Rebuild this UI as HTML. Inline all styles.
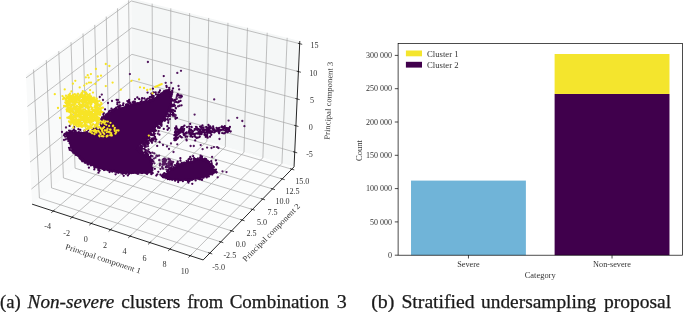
<!DOCTYPE html>
<html lang="en"><head><meta charset="utf-8"><title>Figure</title>
<style>html,body{margin:0;padding:0;background:#fff}svg{display:block}</style></head>
<body>
<svg width="685" height="312" viewBox="0 0 685 312">
<rect width="685" height="312" fill="#fff"/>
<polygon points="32.08,204.15 132.67,119.98 131.28,-1.65 25.88,75.1" fill="#f9fafa"/>
<polygon points="132.67,119.98 294.05,166.83 299.8,40.99 131.28,-1.65" fill="#f5f7f7"/>
<polygon points="32.08,204.15 203.16,259.95 294.05,166.83 132.67,119.98" fill="#fbfcfc"/>
<path d="M53.24,211.05 L152.71,125.8 L152.16,3.64 M72.12,217.21 L170.57,130.98 L170.79,8.35 M91.23,223.44 L188.63,136.22 L189.63,13.12 M110.56,229.75 L206.88,141.52 L208.68,17.94 M130.13,236.13 L225.34,146.88 L227.96,22.82 M149.94,242.6 L244.01,152.3 L247.46,27.75 M169.99,249.14 L262.88,157.78 L267.19,32.74 M190.29,255.76 L281.96,163.32 L287.15,37.79 M209.79,253.15 L39.4,198.03 L33.57,69.5 M220.79,241.89 L51.53,187.88 L46.32,60.22 M231.56,230.86 L63.42,177.93 L58.8,51.13 M242.1,220.05 L75.07,168.18 L71.03,42.23 M252.44,209.46 L86.51,158.61 L83.01,33.5 M262.56,199.09 L97.73,149.23 L94.75,24.95 M272.49,188.92 L108.73,140.02 L106.26,16.57 M282.22,178.95 L119.53,130.98 L117.55,8.35 M291.76,169.17 L130.13,122.11 L128.62,0.29 M31.36,189.11 L132.51,105.75 L294.72,152.13 M30.06,162.11 L132.22,80.26 L295.93,125.78 M28.74,134.58 L131.92,54.3 L297.15,98.94 M27.39,106.52 L131.62,27.87 L298.4,71.58 M26.02,77.89 L131.31,0.97 L299.68,43.7" fill="none" stroke="#a6a6a6" stroke-width="0.7" stroke-linejoin="round"/>
<polygon points="68.55,140.91 68.56,140.92 71.65,150.3 71.67,150.35 71.69,150.39 71.71,150.43 71.74,150.46 71.77,150.5 77.88,156.61 77.92,156.65 85.72,162.88 85.75,162.91 85.79,162.93 85.83,162.95 98.43,168.42 98.48,168.44 98.53,168.45 114.32,171.91 114.37,171.91 130.32,173.7 130.38,173.7 146.3,173.7 146.37,173.69 150.99,173.03 151.04,173.02 151.08,173 151.13,172.99 151.17,172.96 151.21,172.94 151.25,172.91 151.28,172.88 151.31,172.84 151.34,172.8 151.36,172.76 151.38,172.72 151.4,172.68 152.47,169.09 152.48,169.05 152.49,169 152.49,168.95 152.49,168.91 152.01,163.09 152,163.03 151.98,162.97 151.96,162.92 149.55,157.62 149.53,157.57 149.5,157.53 149.47,157.49 149.43,157.45 149.39,157.42 144.02,153.52 143.97,153.49 139.51,151.01 139.5,151 139.49,150.99 138.01,149.01 138,149 138.01,148.99 139.99,145.01 140,145 140.01,144.99 144.07,142.68 144.11,142.65 144.15,142.62 144.18,142.58 144.22,142.55 144.24,142.51 144.27,142.46 144.49,142.01 144.5,142 144.51,141.99 147.03,140.55 147.07,140.53 147.11,140.49 147.15,140.46 147.18,140.42 147.21,140.38 147.24,140.33 147.25,140.29 149.5,134.01 149.5,134 149.51,133.99 153.97,128.93 154,128.9 154.02,128.86 156.99,124.01 157,124 157.01,123.99 161.21,121.37 161.25,121.34 161.29,121.31 161.32,121.28 161.35,121.24 161.38,121.2 161.49,121.01 161.5,121 161.51,120.99 164.96,118.84 165.01,118.81 165.05,118.77 165.08,118.73 165.11,118.69 165.14,118.65 165.16,118.6 167.5,112.81 167.5,112.8 167.51,112.79 169.96,108.87 169.98,108.82 170,108.77 170.02,108.72 171.49,102.76 171.5,102.7 171.5,102.64 171.5,94.07 171.5,94.03 171.49,93.98 171.48,93.93 171.46,93.89 171.44,93.84 171.42,93.8 171.39,93.76 168.42,90.02 168.39,89.99 168.35,89.96 168.31,89.93 168.27,89.9 168.23,89.88 168.18,89.86 168.14,89.85 168.09,89.84 168.04,89.84 167.99,89.84 167.94,89.84 164.11,90.48 164.06,90.49 164,90.51 163.96,90.53 163.91,90.56 160.03,93.18 159.98,93.22 152.81,99.59 152.8,99.6 152.79,99.6 138.31,102.8 138.29,102.8 125.51,106 125.49,106 114.26,109.28 114.22,109.3 114.18,109.31 114.15,109.33 106.29,113.95 106.25,113.98 106.21,114.01 106.17,114.04 106.14,114.08 101.06,120.91 101.03,120.96 101.01,121 100.99,121.05 100.98,121.1 99,129.99 99,130 98.99,130 90.01,132.5 90,132.5 89.99,132.5 75.03,131.5 74.97,131.5 66.07,132 66.02,132 65.98,132.01 65.94,132.02 65.61,132.13 65.57,132.15 65.53,132.17 65.49,132.19 65.45,132.22 65.41,132.25 65.38,132.29 65.35,132.33 65.33,132.37 65.31,132.41 65.29,132.46 65.28,132.5 65.27,132.55 65.27,132.6 65.27,132.65 65.28,132.69 65.29,132.74 65.84,134.66 65.86,134.73 68.52,140.84 68.53,140.85" fill="#41014f"/>
<polygon points="164.23,177.62 164.27,177.65 164.31,177.67 164.35,177.69 164.4,177.7 170.46,179.41 170.52,179.42 179.99,180.89 180.05,180.89 180.1,180.89 191.08,180.3 191.13,180.3 202.1,178.63 202.16,178.62 202.22,178.6 211.68,174.8 211.74,174.77 216.29,172.19 216.33,172.16 216.37,172.13 216.41,172.1 216.44,172.06 216.47,172.02 216.49,171.98 216.51,171.94 216.53,171.89 216.54,171.84 216.54,171.8 216.55,171.75 216.54,171.7 216.54,171.65 216.52,171.6 216.51,171.56 216.49,171.52 216.46,171.47 216.43,171.43 216.4,171.4 212.11,167.11 212.1,167.1 212.09,167.09 208.97,162.4 208.94,162.36 208.91,162.33 208.87,162.29 208.84,162.27 208.8,162.24 202.52,158.67 202.48,158.65 202.44,158.63 202.4,158.62 202.35,158.61 202.31,158.61 202.26,158.6 196.12,158.8 196.07,158.8 196.03,158.81 195.98,158.82 195.94,158.84 195.89,158.86 191.21,161.49 191.2,161.5 191.19,161.5 183.26,163.09 183.22,163.1 183.18,163.11 183.14,163.13 175.12,167.09 175.08,167.11 167.17,171.86 167.12,171.89 167.08,171.92 167.05,171.96 163.26,176.22 163.23,176.26 163.2,176.3 163.18,176.34 163.16,176.39 163.15,176.43 163.14,176.48 163.14,176.53 163.14,176.58 163.14,176.63 163.15,176.67 163.16,176.72 163.18,176.76 163.21,176.81 163.23,176.85 163.26,176.89 163.3,176.92 163.33,176.95" fill="#41014f"/>
<path d="M84.65,162.55h0 M159.39,123.94h0 M138.56,147.43h0 M141.7,103.07h0 M152.38,170.48h0 M154.63,126.19h0 M140.61,149.43h0 M133.78,102.31h0 M159.65,142.2h0 M163.8,128.96h0 M96.91,126.65h0 M167.99,90.49h0 M126.03,104.69h0 M100.53,122.7h0 M86.37,162.52h0 M98.25,169.9h0 M137.33,97.51h0 M171.81,94.52h0 M171.89,106.42h0 M157.65,125.63h0 M145.81,151.19h0 M148.73,156.79h0 M169.01,110.3h0 M103.53,116.64h0 M152.24,163.37h0 M153.21,134.97h0 M141.79,145.38h0 M78.86,132.11h0 M151.06,155.73h0 M68.3,141.02h0 M75.83,132.46h0 M145.75,142.25h0 M144.21,145.88h0 M161.5,122.52h0 M151.06,133.35h0 M181.56,105.35h0 M171.92,109.76h0 M149.84,97.13h0 M157.14,94.83h0 M99.52,170.77h0 M152.52,96.45h0 M133.58,102.44h0 M148.83,137.11h0 M90.76,132.36h0 M128.86,101.52h0 M149.22,152.02h0 M165.45,119.25h0 M119.06,171.44h0 M67.92,137.65h0 M173.02,88.38h0 M95.17,129.75h0 M84.5,130.67h0 M150.93,161.27h0 M69.53,131.12h0 M80.55,158.95h0 M169.87,107.43h0 M95.15,131.88h0 M150.4,161.56h0 M147.98,98.58h0 M140.06,143.85h0 M144.89,142.55h0 M76,154.12h0 M130.93,104.03h0 M150.51,172.38h0 M157.38,174.28h0 M86.27,162.6h0 M150.43,140.63h0 M144.89,142.97h0 M88.14,130.29h0 M93.18,132.35h0 M152.25,169.18h0 M69.01,147.84h0 M141.61,150.98h0 M150.84,99.62h0 M166.14,114.55h0 M130.73,104.47h0 M141.88,151.16h0 M101.91,120.5h0 M141.74,147.96h0 M128.58,173.15h0 M148.12,154.46h0 M79.7,156.85h0 M114.95,109.27h0 M124.17,172.52h0 M150.47,156.89h0 M140.54,102.24h0 M174.91,100h0 M72.01,131.78h0 M147.8,101.45h0 M166.4,85.99h0 M76.04,154.49h0 M171.85,93.91h0 M146.98,156.89h0 M78.38,129.27h0 M139.16,98.98h0 M161.54,124.17h0 M120.72,105.84h0 M142.49,152.81h0 M135.04,99.07h0 M75.6,130.91h0 M95.4,166.13h0 M67.05,135.91h0 M164.86,120.67h0 M104.01,170.11h0 M108.8,112.76h0 M142.01,173.19h0 M82.2,161.23h0 M129.17,100.02h0 M172.56,114.95h0 M159.77,127.75h0 M164.81,120.81h0 M149.38,137.47h0 M139.63,103.43h0 M154.92,129.57h0 M166.73,113.72h0 M147.57,173.01h0 M80.16,158.73h0 M132.68,102.23h0 M155.93,130.68h0 M149.93,159.82h0 M116.09,171.83h0 M170.95,112.1h0 M151.21,96.66h0 M70.85,145.6h0 M157.83,122.45h0 M146.58,99.4h0 M163.51,119.1h0 M105.84,115.14h0 M100.27,127.95h0 M148.7,136.58h0 M96.89,129.72h0 M129.07,101.77h0 M164.28,118.66h0 M167.61,129.74h0 M151.71,164.67h0 M156.83,123.66h0 M81.03,132.6h0 M161.37,123.08h0 M169.39,92.55h0 M157.38,94.81h0 M170.06,91.98h0 M100.44,167.92h0 M177.3,95.06h0 M148.66,157.77h0 M136.96,149.43h0 M119.2,107.54h0 M88.3,164.44h0 M78.23,155.92h0 M96.34,129.69h0 M90.86,165.45h0 M153.66,92.35h0 M66.71,132.51h0 M171.68,94.42h0 M158.59,92.38h0 M160.26,121.1h0 M147.57,92.55h0 M170.95,103.74h0 M157.75,94.57h0 M150.39,153.13h0 M150.27,134.63h0 M69.65,149.85h0 M103.61,117.63h0 M67.32,136.24h0 M123.7,173.12h0 M158.27,126.83h0 M151.37,174.16h0 M147.79,144.19h0 M174.09,105.91h0 M139.89,149.37h0 M158.29,171.82h0 M97.49,123.23h0 M133.58,101.66h0 M175.76,107.83h0 M151.93,169.85h0 M139.01,147.1h0 M101.92,118.89h0 M127.87,175.44h0 M171.11,101.68h0 M98.88,129.8h0 M157.03,97.04h0 M130.37,104.98h0 M154.99,136.77h0 M158.1,122.25h0 M167.89,90.59h0 M72.34,150.3h0 M144.82,144.93h0 M156.68,124.61h0 M156.52,125.97h0 M140.38,148.9h0 M123.05,105.07h0 M107.46,170.19h0 M92.47,132.02h0 M118.71,107.44h0 M129.61,102.34h0 M167.76,113.82h0 M143.4,102.21h0 M140.91,145.46h0 M159.43,134.63h0 M92,132.71h0 M127.92,105.1h0 M101.05,119.04h0 M148.94,138.17h0 M155.7,92.49h0 M76.82,154.26h0 M132.31,104.41h0 M136.48,173.09h0 M103.52,118.53h0 M75.66,154.85h0 M164.18,91.12h0 M119.5,105.58h0 M145.88,100.35h0 M156.27,139.53h0 M157.97,122.83h0 M144.32,98.5h0 M168.76,110.68h0 M174.07,104.42h0 M153.89,132.5h0 M99.84,168.49h0 M147.11,174.04h0 M153.94,135.42h0 M180.59,95.71h0 M73.29,152.73h0 M151.71,130.45h0 M83.19,160.71h0 M126.05,173.19h0 M85.28,162.87h0 M173.66,114.12h0 M170.37,114.14h0 M81.61,158.67h0 M172.24,104.67h0 M72.85,151.96h0 M159.88,124.37h0 M118.62,172.78h0 M119.19,106.34h0 M99.66,167.87h0 M66.55,134.39h0 M99.08,168.46h0 M106.67,114.78h0 M173.01,112.87h0 M148.61,158.1h0 M70.03,148.03h0 M152.93,140.48h0 M125.5,106.51h0 M152.92,88.63h0 M97.57,167.58h0 M166.25,90.46h0 M152.22,159.83h0 M130.58,104.63h0 M156.29,175.57h0 M64.04,135.24h0 M104.99,169.79h0 M151.37,134.88h0 M106.27,114.34h0 M148.69,140.67h0 M65.96,133.9h0 M80.3,129.9h0 M85.02,132.94h0 M70.29,131.13h0 M159.12,121.56h0 M169.05,111.78h0 M84.85,161.41h0 M111.47,108.62h0 M120.86,172.72h0 M151.4,140.45h0 M87.65,164.39h0 M147.2,141.91h0 M144.28,148.84h0 M91.63,132.65h0 M169.93,93.41h0 M89.2,163.48h0 M152.04,138.63h0 M137.3,148.38h0 M94.28,169.42h0 M154.62,130.34h0 M154.59,133.53h0 M154.84,168.82h0 M99.93,167.96h0 M92.44,132.78h0 M147.51,173.19h0 M112.29,171.71h0 M153.66,139.51h0 M141.37,102.89h0 M171.03,106.42h0 M107.8,113.49h0 M146.21,100.82h0 M160.06,121.12h0 M137.67,172.98h0 M114.53,109.08h0 M109.54,172.01h0 M146.08,140.52h0 M117.9,106.58h0 M172.2,90.77h0 M143.27,102.49h0 M87.01,133.3h0 M151.45,161.42h0 M175.87,108.19h0 M142.76,152.34h0 M156.46,124.13h0 M72.38,130.86h0 M150.92,161.64h0 M104.46,116.52h0 M152.38,130.71h0 M137.22,103.46h0 M143.86,154.52h0 M140.62,151.68h0 M168.9,128.04h0 M110.82,170.63h0 M116.47,108.77h0 M173.77,105.89h0 M149.74,139.77h0 M136.25,103.3h0 M79.88,157.46h0 M97.06,166.97h0 M99.36,168.4h0 M69.65,143.3h0 M89.23,163.55h0 M154.4,126.76h0 M96.16,131.71h0 M171.02,105.16h0 M147.94,141.37h0 M126.94,172.36h0 M152.59,100.55h0 M102.75,119.15h0 M74.88,153.29h0 M115.93,171.67h0 M67.47,138.41h0 M143.73,102.53h0 M64.61,133.91h0 M116.6,99.78h0 M171.71,94.76h0 M99.11,167.74h0 M65.22,136.67h0 M147.17,153.51h0 M113.1,111.03h0 M155.27,138.14h0 M120.12,105.35h0 M71.66,150.64h0 M169.11,111.45h0 M122.59,171.97h0 M81.21,159.58h0 M138.77,146.41h0 M77.89,155.62h0 M128.14,104.05h0 M155,127.66h0 M101.98,117.35h0 M115.05,171.69h0 M96.3,166.85h0 M169.16,87.95h0 M152.05,134.89h0 M168.38,114.92h0 M129.68,105.47h0 M154.66,126.15h0 M153.67,130.34h0 M163.6,119.97h0 M123.71,175.8h0 M74.51,131.12h0 M153.31,129.25h0 M152.51,99.93h0 M154.79,133.72h0 M141.65,101.89h0 M169.96,116.12h0 M79.37,157.84h0 M155.34,130.91h0 M123.02,105.15h0 M174.84,105.71h0 M177.94,102.44h0 M94.89,166.63h0 M113.06,109.99h0 M81.74,160.15h0 M167.68,119.16h0 M151.12,172.19h0 M138.36,148.61h0 M149.14,135.46h0 M83.61,132.85h0 M156.04,124.47h0 M116.92,171.41h0 M139.93,152.32h0 M178.72,102.01h0 M97.13,130.41h0 M175.39,99.76h0 M146,141.1h0 M66.58,134.29h0 M141.6,172.83h0 M65.65,139.4h0 M139.94,149.41h0 M80.54,158.11h0 M152.78,173.03h0 M142.13,146.83h0 M170.1,114.48h0 M86.41,132.95h0 M153.39,161.49h0 M129.16,173.84h0 M76.76,155.1h0 M169.85,106.64h0 M68.22,139.49h0 M115.58,174.3h0 M150.31,140.25h0 M94.81,167.78h0 M150.48,133.45h0 M128.14,102.1h0 M94.43,131.07h0 M166.03,116.35h0 M73.49,151.08h0 M136.02,104.34h0 M161.34,121.5h0 M82.69,159.25h0 M146.55,142.82h0 M169.03,108.98h0 M141.72,152.61h0 M151.36,93.72h0 M83.71,161.11h0 M171.29,104.05h0 M148.93,100.97h0 M148.13,155.86h0 M152.21,95.25h0 M159.65,121.79h0 M151.14,100.41h0 M173.64,110.23h0 M90.98,164.46h0 M109.12,111.46h0 M145.3,154.81h0 M110.2,110.54h0 M122.44,173.83h0 M107.92,113.59h0 M155.68,98.11h0 M163.75,76.05h0 M149.52,134.61h0 M73.87,129.55h0 M153.77,96.1h0 M87.4,162.61h0 M84.06,160.63h0 M98.76,131.04h0 M106.44,114.6h0 M142.87,153.43h0 M181.8,96.48h0 M144.32,142.59h0 M97.05,167.56h0 M169.62,92.54h0 M110.48,170.18h0 M152.46,167.67h0 M133.24,172.82h0 M102.53,168.9h0 M139.34,150.71h0 M120.77,171.73h0 M138.28,146.63h0 M169.33,90.01h0 M158.12,122.48h0 M165.86,119.55h0 M98.32,167.99h0 M126.28,105.88h0 M133.73,103.48h0 M97.36,131.43h0 M145.56,141.06h0 M144.78,152.16h0 M148.39,101.54h0 M167.13,112.06h0 M175.57,118.75h0 M138.16,103.22h0 M150.2,134.7h0 M145.92,153.76h0 M146.91,138.41h0 M175.9,108.38h0 M154.05,131.15h0 M150.12,158.9h0 M70.92,146.02h0 M169.59,106.96h0 M144.35,101.63h0 M120.6,108.44h0 M156.03,125.2h0 M140.28,147.41h0 M140.22,149.14h0 M150.53,132.58h0 M100.78,124.42h0 M119.39,102.29h0 M123.38,103.39h0 M153.4,100.27h0 M180.52,100.93h0 M157.19,145.88h0 M101.98,120.12h0 M66.44,136.16h0 M172.33,99.31h0 M169.47,109.86h0 M145.46,145.84h0 M75.69,153.48h0 M156.22,125.06h0 M179.02,95.4h0 M148.96,136.32h0 M140.7,145.32h0 M169.64,108.27h0 M116.17,107.73h0 M161.49,125.83h0 M169.02,109.41h0 M135.1,103.34h0 M124.74,172.98h0 M135.8,103.18h0 M168.56,91.77h0 M171.34,100.79h0 M156.01,94.47h0 M171.42,111.86h0 M152.53,98.52h0 M95.4,129.82h0 M69.64,125.97h0 M93.4,128.69h0 M134.81,101.75h0 M111.81,111.22h0 M171.49,96.03h0 M148.29,156.46h0 M147.17,156.91h0 M144.53,149.29h0 M131.37,173.19h0 M116.9,172.39h0 M152.93,131.22h0 M103.35,114.52h0 M108.39,170.01h0 M172.38,114.94h0 M141.91,142.86h0 M158.72,127.34h0 M86.86,133.04h0 M103.77,113.16h0 M73.31,151.3h0 M115.57,108.41h0 M149.14,133.22h0 M126.96,104.41h0 M127.59,101.35h0 M93.53,165.42h0 M71.09,147.21h0 M92.75,131.76h0 M163.63,118.66h0 M151.16,163.68h0 M74.16,127.25h0 M86.96,132.2h0 M125.83,172.93h0 M125.95,106.73h0 M176.99,117.87h0 M170.24,110.92h0 M151.36,141.52h0 M128.17,105.88h0 M113.94,171.01h0 M125.93,173.86h0 M150.98,130.99h0 M139.01,147.91h0 M152.13,97.5h0 M74,129.95h0 M170.4,109.27h0 M104.34,117.67h0 M111.81,111.84h0 M157.59,125.43h0 M141.65,100.1h0 M167.28,126.23h0 M92.43,130.01h0 M127.5,105.41h0 M170.8,97.96h0 M174.98,111.18h0 M81.14,159.27h0 M156.85,124.4h0 M142.1,98.19h0 M148.45,135.68h0 M95.26,128.33h0 M154.98,127.35h0 M117.34,104.21h0 M171.23,101.67h0 M69.09,130.62h0 M171.72,92.32h0 M145.87,150.27h0 M130.36,105.62h0 M156.84,123.47h0 M103.02,119.86h0 M120.43,171.85h0 M173.41,100.67h0 M149.67,99.08h0 M170.6,107.05h0 M144.87,154.81h0 M139.01,150.52h0 M170.33,92.74h0 M131.64,105.49h0 M71.06,150.31h0 M141.31,150.03h0 M166.67,86.98h0 M142.3,148.75h0 M147.89,142.71h0 M130.17,103.21h0 M143.61,143.27h0 M137.95,173.78h0 M170.99,96.25h0 M150.49,158.55h0 M159.12,94.92h0 M153.8,127.4h0 M105.07,109.28h0 M159.09,123.68h0 M138.21,150.94h0 M98.51,172.65h0 M168.01,116.73h0 M170.72,109.34h0 M154.13,98.2h0 M140.82,146.64h0 M160.01,90.29h0 M139.66,103.15h0 M112.41,110.24h0 M117.43,102.41h0 M130.85,104.92h0 M158.14,94.88h0 M139.21,151.29h0 M157.65,123.03h0 M144.48,143.59h0 M150.19,101.2h0 M127.31,101.04h0 M133.68,104.63h0 M159.61,127.9h0 M143.2,142.71h0 M93.42,132.32h0 M67.44,136.78h0 M150.77,160.61h0 M177.76,94.26h0 M150.6,158.92h0 M146.65,155.47h0 M150.67,133.09h0 M84.03,160.52h0 M154.87,130.23h0 M165.24,116.53h0 M74.16,130.35h0 M105.23,116.06h0 M102.74,118.47h0 M167.86,90.5h0 M88.89,167.7h0 M147.94,155.35h0 M85.67,132.76h0 M74.43,152.13h0 M137.32,149.61h0 M146.73,152.86h0 M133.52,102.35h0 M143.35,144.33h0 M94.37,167.24h0 M145.74,172.83h0 M141.57,102.55h0 M172.35,92.42h0 M146.1,155.08h0 M171.11,98.87h0 M96.21,166.65h0 M159.7,121.77h0 M173.09,115.77h0 M91.2,165.28h0 M157.28,126.34h0 M129.49,105.5h0 M101.22,122.52h0 M162.65,120.82h0 M73.93,130.41h0 M176.15,102h0 M168.24,122.87h0 M159.45,91.98h0 M152.13,172.93h0 M190.8,159.78h0 M184.19,163.82h0 M214.32,170h0 M200.36,157.31h0 M174.97,165.05h0 M202.19,159.39h0 M179.3,165.72h0 M187.76,180.82h0 M208.07,161.24h0 M164.79,177.39h0 M181.12,164.26h0 M203.1,159.43h0 M165.8,167.17h0 M177.75,161.56h0 M163.13,174.45h0 M196.51,159.71h0 M165.81,173.78h0 M183.01,164.03h0 M186.7,161.06h0 M216.43,164.6h0 M188.46,182.63h0 M164.59,175.08h0 M193.9,159.06h0 M200.14,157.82h0 M178.12,182.08h0 M188.04,162.75h0 M203.79,160.43h0 M206.94,176.21h0 M216.74,172.17h0 M215.59,171.62h0 M212.34,173.38h0 M189.74,162.67h0 M178.11,165.13h0 M163.59,175.38h0 M192.84,179.32h0 M200.43,157.84h0 M207.46,160.62h0 M211.33,161.1h0 M194.19,158.24h0 M209.56,164.32h0 M178.61,163.68h0 M163.77,176.16h0 M164.07,176.7h0 M168.69,177.97h0 M171.74,179.5h0 M184.13,162.61h0 M193.6,161.08h0 M171.34,164.01h0 M195.21,160.08h0 M167.12,171.31h0 M176.16,167.26h0 M211.52,166.8h0 M200.22,159.6h0 M202.03,156.75h0 M160.46,174.71h0 M200.2,158.76h0 M172.96,169.16h0 M183.13,163.67h0 M213.05,166.24h0 M173.23,168.28h0 M208.39,176.37h0 M201.33,156.9h0 M206.18,176.66h0 M166.96,177.57h0 M175.36,168.01h0 M197.47,159.11h0 M205.94,161.7h0 M209.13,163.58h0 M211.64,163.11h0 M202.02,179.96h0 M180.43,160.61h0 M213.81,170.18h0 M195.82,159.14h0 M212.43,167.42h0 M182.28,163.26h0 M169.1,179.09h0 M179.24,165.84h0 M188.38,180.04h0 M189.59,162.49h0 M202.9,177.64h0 M164.3,173.12h0 M192.27,183.83h0 M188.92,162.5h0 M171.44,168.13h0 M179.02,180.2h0 M190.31,162.35h0 M174.01,168.92h0 M199.96,179.35h0 M186.01,162.96h0 M205.66,159.65h0 M207.5,161.36h0 M201.56,158.49h0 M206.1,159.24h0 M210.9,174.15h0 M209.89,163.62h0 M202.66,158.99h0 M180.54,180.13h0 M182.17,163.9h0 M208.66,162.55h0 M193.15,156.18h0 M206.17,176.46h0 M204.35,159.27h0 M210.64,166.37h0 M213.9,167.03h0 M216.6,172.54h0 M215.92,171.63h0 M185.49,179.9h0 M163.97,177.39h0 M173.94,167.5h0 M191.97,179.88h0 M207.24,161.31h0 M176.92,167.22h0 M176.84,165.2h0 M170.14,168.13h0 M190.21,162.49h0 M175.59,165.55h0 M181.75,162.91h0 M191.64,161.73h0 M204.26,160.37h0 M192.13,161.93h0 M206.73,177.44h0 M168.06,170.17h0 M169.15,178.18h0 M180.17,164.72h0 M189.59,180.91h0 M188.47,159.54h0 M189.21,158.84h0 M173.84,167.19h0 M204.82,159.69h0 M206.55,176.04h0 M210.11,164.77h0 M166.12,178.02h0 M167.81,179h0 M214.04,172.55h0 M212.28,174.6h0 M211.76,173.67h0 M178.11,164h0 M174.11,168.65h0 M215.78,171.35h0 M167.9,172.35h0 M182.85,181.19h0 M175.1,180.72h0 M169.8,179.46h0 M208.84,176.45h0 M198.4,178.77h0 M163.77,176.87h0 M213.56,173.11h0 M165.86,177.26h0 M209.21,161.83h0 M206,161.57h0 M211.76,166.53h0 M174.41,167.73h0 M203.56,177.68h0 M188.13,181.85h0 M163.01,174.93h0 M170.95,169.5h0 M176.92,163.28h0 M197.93,158.36h0 M215.84,169.78h0 M210.42,166.22h0 M170.56,170.09h0 M190.25,156.96h0 M174.54,167.99h0 M209.29,163.73h0 M174.83,179.87h0 M188.62,179.56h0 M211.7,173.93h0 M191.51,158.92h0 M168.37,169.55h0 M204.98,158.67h0 M177.4,179.65h0 M195.6,180.4h0 M180.37,158.25h0 M161.76,175.88h0 M214.13,170.42h0 M204.23,159.16h0 M185.71,179.62h0 M186.74,179.95h0 M191.11,179.54h0 M162.84,177h0 M208.47,161.61h0 M180.62,165.37h0 M210.85,164.41h0 M172.48,179.79h0 M175.71,165.67h0 M201.11,159.19h0 M212.62,167.85h0 M200.61,155.73h0 M214.07,169.74h0 M203.53,159.86h0 M188.05,161.37h0 M211.64,164.39h0 M215.97,169.57h0 M215.91,160.38h0 M211.81,164.52h0 M215.91,172.32h0 M192.03,162.13h0 M213.65,172.92h0 M193.69,161.23h0 M205.9,161.1h0" fill="none" stroke="#41014f" stroke-width="2.3" stroke-linecap="round"/>
<path d="M180.71,97.56h0 M154.42,163.32h0 M146.74,143.76h0 M152.07,138.92h0 M148.26,143.52h0 M147.9,151.02h0 M164.73,119.78h0 M161.6,121.39h0 M175.66,115.15h0 M148.86,143.07h0 M148.44,149.33h0 M179.36,105.92h0 M147.31,140.35h0 M145.04,147.26h0 M175.59,117.49h0 M148.07,146.17h0 M146.56,146.48h0 M158.58,131.26h0 M152.36,152.59h0 M146.03,139.62h0 M179.29,97.46h0 M155.46,139.3h0 M153.96,158.58h0 M179.72,105.75h0 M153.58,138.12h0 M179.15,89.46h0 M174.93,116.45h0 M152.01,142.79h0 M176.78,98.89h0 M156.46,155.63h0 M178.01,106.41h0 M157.8,133.71h0 M160.86,122.61h0 M181.26,95.59h0 M176.62,97.86h0 M157.65,156.07h0 M152.24,135.21h0 M178.71,101.33h0 M153.46,133.79h0 M154.32,153.45h0 M174.65,102.08h0 M145.51,144.26h0 M169.9,119.06h0 M161.15,125.16h0 M164.99,118.91h0 M176.82,96.31h0 M164.32,117.29h0 M158.34,127.44h0 M159.14,155.59h0 M155.4,141.42h0 M174.64,114.61h0 M168.26,120.59h0 M158.03,127.83h0 M143.81,137.77h0 M149.39,138.21h0 M155.58,157.72h0 M152.46,156.24h0 M172.24,110.52h0 M168.43,121.07h0 M172.49,111.43h0 M171.76,161.69h0 M163.52,161.54h0 M164.21,159.3h0 M159.22,160.34h0 M159.31,160.01h0 M168.88,164.64h0 M169.5,165.86h0 M159.87,164.17h0 M165.11,162.3h0 M164.25,162.53h0 M169.39,163.05h0 M168.65,162.11h0 M172.21,165.6h0 M159.54,160.14h0 M170.29,160.98h0 M170.38,161.57h0 M168.52,159.5h0 M169.41,159.49h0 M163.69,158.96h0 M162.15,167.17h0 M163.24,168.61h0 M162.86,168.6h0 M164.38,161.39h0 M164.74,158.69h0 M169.97,164h0 M165.23,163.69h0 M170.28,162.73h0 M172.29,163.92h0 M166.04,160.73h0 M164.26,159.68h0 M166.5,169.57h0 M171.33,165.92h0 M169.53,162.99h0 M162.8,159.53h0 M171.54,168.03h0 M168.59,162.52h0 M159.82,165.43h0 M164.97,161.85h0 M169.98,168.29h0 M168.35,166.9h0 M168.92,163.68h0 M165.57,159.97h0 M167.34,166.75h0 M163.95,164.82h0 M169.86,159.53h0 M164.24,164h0 M165.04,160.24h0 M160.12,163.86h0 M166.47,165.67h0 M164.08,160.17h0 M171.76,162.19h0 M169.28,168.28h0 M164.65,162.46h0 M164.4,162.73h0 M164.54,163.89h0 M164.02,161.86h0 M167.44,165.83h0 M171.05,164.38h0 M171.92,166.19h0 M168.42,158.88h0 M163.8,163.6h0 M162.38,164.63h0 M160.21,163.59h0 M162.75,161.64h0 M170.27,161.22h0 M173.24,161.9h0 M170.23,161.21h0 M166.72,164.01h0 M163.37,162.91h0 M160.47,169.05h0 M169.07,163.86h0 M166.13,159.71h0 M166.86,166.23h0 M162.25,166.9h0 M165.91,159.85h0 M147.9,62h0 M129.9,74.1h0 M101.8,94.6h0 M177.3,72.9h0 M181,70.8h0 M214.2,99.4h0 M194.6,114.6h0 M228.6,120.6h0 M237.2,117.8h0 M242.3,121h0 M244.4,126.2h0 M177.3,144.3h0 M190.6,146h0 M193.8,146h0 M200.7,145.1h0 M202.6,149.2h0 M207.1,147.6h0 M211.5,148h0 M213.9,147.1h0 M217.1,147.1h0 M218.4,148h0 M219.5,139h0 M222.5,171.3h0 M226.5,172.1h0 M217.7,177.3h0 M216.9,163.3h0 M212.1,156.9h0 M167,146.4h0 M173.5,152h0 M163,145h0 M169,149h0 M171,143.5h0 M165.7,82.8h0 M171.3,82.8h0 M178.5,86h0 M99.8,97h0 M103,100h0 M108,103h0 M112,101h0 M118,100h0 M66,127.5h0 M62,132h0 M64,140h0" fill="none" stroke="#41014f" stroke-width="2.3" stroke-linecap="round" opacity="0.9"/>
<path d="M221.94,126.37h0 M209.75,132.84h0 M183.05,126.85h0 M191.69,127.13h0 M192.12,132.83h0 M180.15,136.19h0 M178.17,137.42h0 M175.31,131.58h0 M181.08,130.72h0 M201.55,134.22h0 M208.74,127.9h0 M180.94,128.52h0 M210.53,132.26h0 M175.71,135.03h0 M185.91,132.82h0 M194.48,136.02h0 M200.07,126.58h0 M196.44,133.32h0 M210.01,136.7h0 M200.43,130.31h0 M201.57,127.72h0 M177.68,138.02h0 M200.74,133.24h0 M190.46,136.44h0 M207.4,133.06h0 M177.16,131.35h0 M213.18,130.23h0 M176.93,128.45h0 M195.21,140.45h0 M210.23,128.53h0 M189.08,131.16h0 M225.87,128.58h0 M192.95,133.61h0 M192.41,136.95h0 M212.73,129.53h0 M174.36,135.23h0 M199.57,133.95h0 M186.63,140.47h0 M193.2,131.38h0 M190.32,133.24h0 M174.46,140.15h0 M206.34,127.24h0 M201.4,131.54h0 M199.6,131.96h0 M219.28,127.87h0 M174.94,132.51h0 M216.17,131.09h0 M187.23,136.53h0 M180.35,136.53h0 M207.7,129.66h0 M227.1,128.05h0 M194.7,135.13h0 M221.51,126.96h0 M183.04,130.76h0 M216.55,127.88h0 M191.42,126.84h0 M185,133.58h0 M200.85,127.3h0 M179.75,130.52h0 M204.47,134.85h0 M211.29,134.84h0 M222.17,127.28h0 M197.92,128.84h0 M194.71,129.1h0 M210.7,127.42h0 M227.67,132.23h0 M201.5,134.09h0 M177.16,135.01h0 M184.13,129h0 M227.44,131.18h0 M218.02,130.81h0 M200.94,131.4h0 M184.59,134.68h0 M219.12,133.33h0 M176.93,132.81h0 M181.7,131.2h0 M224.2,127.89h0 M177.44,138.57h0 M215.11,131.72h0 M190.18,123.94h0 M210.94,131.18h0 M228.67,131.15h0 M200.92,126.76h0 M187.02,127.12h0 M230.73,131.35h0 M203.19,130.49h0 M206.15,127.07h0 M179.61,132.98h0 M178.48,134.31h0 M218.56,128.17h0 M226.17,128.27h0 M203.55,131.38h0 M178.44,132.65h0 M175.45,140.21h0 M176.02,138.35h0 M192.29,133.71h0 M217.2,128.85h0 M228.87,128.51h0 M208.45,125.01h0 M180.74,132.46h0 M190.44,130.73h0 M189.63,129.88h0 M207.88,132.93h0 M181.78,137.38h0 M224.79,126.21h0 M189.29,133.58h0 M226.07,130.66h0 M197.11,129.73h0 M199.17,129.36h0 M176.04,139.88h0 M183.98,135.22h0 M207.29,136.77h0 M178.97,129.87h0 M201.53,128.27h0 M192.58,131.08h0 M191.37,134.95h0 M174.24,138.5h0 M196.58,137.88h0 M202.89,129.45h0 M208.71,127.12h0 M175.92,137.02h0 M210.77,133.11h0 M205.73,132.72h0 M207.17,134.96h0 M175.55,129.86h0 M189.16,126.61h0 M205.67,136.84h0 M207.09,131.88h0 M191.88,131.04h0 M200.07,133.93h0 M186.66,140.3h0 M186.31,133.08h0 M224.02,133.47h0 M229.06,129.8h0 M197.8,137.64h0 M190.16,132.84h0 M185.67,136.81h0 M188.92,132.21h0 M193.22,133.97h0 M214.89,131.11h0 M227.37,128.96h0 M175.62,133.57h0 M218.51,131.92h0 M220.22,129.97h0 M225.67,128.81h0 M183.61,134.16h0 M205.48,135.22h0 M209.37,130.7h0 M189.55,128.76h0 M225.97,128.13h0 M217,130.48h0 M199.77,136.51h0 M176.9,128.91h0 M230.57,131.53h0 M203.97,130.72h0 M218.34,128.8h0 M180.37,130.76h0 M175.16,137.79h0 M207.36,129.77h0 M225.55,132.52h0 M186.48,139.65h0 M195.59,129.03h0 M203.58,127.57h0 M213.14,126.31h0 M212.15,132.05h0 M207.7,128.6h0 M191.2,129.93h0 M223.3,128.36h0 M205.15,134.94h0 M197.87,133.68h0 M197.87,133.49h0 M210.14,126.31h0 M213.64,128.5h0 M221.49,129.95h0 M208,130.62h0 M186.69,133.4h0 M195.39,136.88h0 M195.11,133.94h0 M214.23,132.47h0 M214.78,130.17h0 M200.12,130.19h0 M183.78,130.71h0 M223.2,129.73h0 M176.26,126.37h0 M194.69,129.89h0 M186.68,132.34h0 M205.98,129.7h0 M176.04,132.74h0 M184.43,125.67h0 M229.16,128.55h0 M198.6,131.52h0 M186.02,136.43h0 M206.44,131.31h0 M203.07,130.55h0 M183.15,130.33h0 M219.78,130.22h0 M200.56,129.82h0 M204.62,133.14h0 M178.44,130.63h0 M219.66,131.59h0 M228.6,128.38h0 M196,126.91h0 M229.95,126.9h0 M190.62,135.03h0 M218.06,128.91h0 M204.65,129.68h0 M207.71,137.69h0 M175.1,128.19h0 M175.97,132.68h0 M196.72,127.26h0 M180.6,130.16h0 M197.9,133.07h0 M180.21,131.39h0 M199.54,137.06h0 M182.02,128.92h0 M208.84,128.93h0 M181.57,127.19h0 M183.05,132.43h0 M175.68,129.73h0 M200.01,130.88h0 M212.58,128.51h0 M208.16,132.01h0 M180.14,130.07h0 M208.89,131h0 M175.16,132.38h0 M179.05,129.76h0 M183.21,132.41h0 M189.14,132h0 M204.3,132.54h0 M202.46,125.48h0 M222.19,133.05h0 M224.77,130.05h0 M204.01,132.33h0 M201.94,132.8h0 M223.17,127.12h0" fill="none" stroke="#41014f" stroke-width="2.3" stroke-linecap="round"/>
<path d="M84.97,112.03h0 M80.12,123.76h0 M79.07,107.01h0 M76.1,112.83h0 M74.68,99.72h0 M82.78,102.02h0 M69.76,116.41h0 M84.58,113.78h0 M71.96,101.11h0 M85.01,125.22h0 M75.34,119.05h0 M65.11,98.43h0 M72.85,96.56h0 M80.8,108.71h0 M90.49,96.47h0 M74.02,123.16h0 M72.17,102.28h0 M98.02,113.24h0 M78.13,124.47h0 M73.45,98.08h0 M72.86,117.65h0 M85.73,99.4h0 M91.3,114.16h0 M78.74,113.41h0 M92.69,100.61h0 M69.87,102.99h0 M79.36,100.3h0 M83.94,116.58h0 M69.29,104.58h0 M72.62,110.72h0 M89.71,114.72h0 M67.56,106.56h0 M99.15,105.21h0 M81.51,125.94h0 M94.71,117.54h0 M90.04,96.87h0 M73.45,123.7h0 M89.77,126.38h0 M95.05,99.68h0 M80.92,106.84h0 M73.54,116.62h0 M70.4,112.26h0 M85.94,97.88h0 M95.17,119.01h0 M71.6,111.44h0 M100.88,111h0 M90.61,114.77h0 M96.61,108.35h0 M100.29,111.19h0 M100.07,110.09h0 M89.44,127.59h0 M87.45,113.16h0 M73.4,121.82h0 M86.33,121.65h0 M84.87,117.02h0 M78.37,109.82h0 M99.76,109.48h0 M85.99,118.3h0 M76.79,97.99h0 M74.51,97.37h0 M89.68,114.83h0 M79.76,109.81h0 M79.98,107.02h0 M82.15,122.99h0 M92.59,115.45h0 M76.15,102.33h0 M94.83,100.73h0 M68.22,111.19h0 M97.33,121.82h0 M80.52,114.2h0 M93.49,120.54h0 M99.09,119.32h0 M79.33,119.85h0 M83.44,112.86h0 M71.51,99.98h0 M85.47,111.51h0 M82.82,101.43h0 M86.3,96.54h0 M76.26,122h0 M91.77,118.13h0 M86.62,112.19h0 M96.16,119.24h0 M80.69,109.25h0 M88.64,118.85h0 M72.88,118.23h0 M82.74,103.42h0 M82.9,111.33h0 M75.31,108.84h0 M75.91,107.92h0 M68.11,109.51h0 M89.24,111.07h0 M81.19,107.42h0 M73.43,107.62h0 M76.15,98.2h0 M74,102.79h0 M93.22,99.06h0 M96.22,109.33h0 M79.78,122.83h0 M82.58,119.46h0 M75.68,109.2h0 M72.57,108.63h0 M77.98,108.82h0 M96.7,113.45h0 M75.75,111.11h0 M95.59,107.23h0 M97.2,121.93h0 M80.21,95.65h0 M91.91,111.91h0 M92.07,98.59h0 M99.6,111.78h0 M76.05,107.99h0 M88.13,102.8h0 M74.59,119.27h0 M68.48,110.45h0 M75.71,96.72h0 M80.21,107.11h0 M83.34,95.43h0 M78.08,112.86h0 M67.8,100.93h0 M96.89,126.06h0 M79.94,126.21h0 M77.89,110.79h0 M90.38,117.17h0 M80.72,115.59h0 M83.89,114.94h0 M75.76,113.38h0 M75.75,96.24h0 M78.54,123.59h0 M90.49,105h0 M92.98,99.14h0 M78.83,114.47h0 M86.78,114.62h0 M90.79,112.27h0 M80.24,106.37h0 M86.26,113.67h0 M83.28,109.48h0 M69.7,105.62h0 M89.06,111.16h0 M83.62,103.1h0 M79.48,117.3h0 M93.22,114.23h0 M79.88,120.91h0 M76.66,107.59h0 M86.22,102.07h0 M94.97,114.76h0 M96.21,117.39h0 M87.93,122.3h0 M95.09,125.83h0 M81.11,116.76h0 M89.54,101.36h0 M80.93,114.86h0 M85.81,106.38h0 M75.93,122.96h0 M76.73,120.85h0 M69.51,96.94h0 M79.61,112.36h0 M86.28,120.13h0 M82.93,112.83h0 M81.2,117.4h0 M96.27,110.4h0 M95.62,104.3h0 M85.39,114.36h0 M84.88,98.8h0 M83.21,95.97h0 M73.11,96.87h0 M88.09,103.8h0 M84.27,105.89h0 M88.92,100.87h0 M79.06,120.01h0 M76.8,106.09h0 M94.77,111.88h0 M80.04,97.84h0 M83.01,125.37h0 M94.86,113.49h0 M68.37,105.71h0 M99.15,114.01h0 M77.96,109.17h0 M99.93,112.25h0 M73.45,105.51h0 M74.6,120.69h0 M88.3,126.28h0 M85.4,123.92h0 M95.49,104.79h0 M90.75,116.18h0 M78.55,100h0 M68.71,99.1h0 M87.72,96.77h0 M94.93,109.57h0 M89.91,121.48h0 M86.04,107.33h0 M84.66,101.67h0 M88.82,112.77h0 M82.64,116.59h0 M85.29,97.81h0 M89.8,117.07h0 M86.11,97.98h0 M66.05,102.16h0 M76.05,113.09h0 M92.04,111.44h0 M70.43,116.35h0 M93.8,113.84h0 M73.95,117.13h0 M95.56,106.55h0 M90.61,119.33h0 M71.94,117.91h0 M84.63,99.48h0 M74.11,113.16h0 M74.52,116.38h0 M98.67,120.15h0 M92.14,118.96h0 M89.84,101.95h0 M88.22,118.18h0 M83.34,101.56h0 M86.1,117.89h0 M88.84,120.57h0 M88.63,126.9h0 M81.68,104.85h0 M75.62,112.82h0 M72.53,100.65h0 M87.02,122.54h0 M72.11,95.9h0 M74.23,96.7h0 M85.98,99.75h0 M80.54,120.46h0 M73.92,122.68h0 M76.54,100.04h0 M80.26,125.6h0 M100.17,115.07h0 M87.96,107.51h0 M82.18,105.02h0 M97.74,110.58h0 M85.6,100.1h0 M97.28,106.18h0 M72.39,120.94h0 M67.74,107h0 M81.26,113.92h0 M72.64,112.34h0 M94.65,102.15h0 M84.12,116.02h0 M97.56,103.21h0 M80.04,110.45h0 M89.08,122.27h0 M80.23,112.01h0 M66.99,97.78h0 M98.02,123.05h0 M82.89,103.93h0 M78.45,126.52h0 M67.43,107.9h0 M84.29,122.33h0 M83.07,98.74h0 M71.11,106.53h0 M66.92,105.02h0 M95.36,118.14h0 M88.53,107.36h0 M74.83,113.83h0 M78.73,122.88h0 M68.07,101.67h0 M94.89,106.21h0 M91.57,109.06h0 M76.26,109.63h0 M79.75,111.72h0 M73.72,123.05h0 M77.94,122.1h0 M76.51,115.58h0 M82.68,107.3h0 M84.01,115.14h0 M88.86,114.63h0 M71.89,104.41h0 M82.01,125.45h0 M83.99,121.14h0 M90.39,102.82h0 M94.34,110.84h0 M95.06,120.34h0 M93.22,109.99h0 M76.78,105.97h0 M86.38,110.94h0 M95.27,118.67h0 M96.88,121.07h0 M88.61,102.19h0 M85.12,105.84h0 M93.27,117.24h0 M98.04,121.63h0 M84.87,95.92h0 M97.67,121.54h0 M78.68,120.13h0 M82.22,114.12h0 M70.23,118.22h0 M89.75,122.68h0 M82.75,96.7h0 M69.57,96.44h0 M75.89,109.92h0 M79.86,109.26h0 M89.17,121.7h0 M94.42,111.18h0 M73.5,101.95h0 M70.93,114.27h0 M71.63,116.17h0 M85.72,98.01h0 M81.69,110.29h0 M67.33,106.73h0 M80.57,107.11h0 M86.98,98.94h0 M87.94,120.36h0 M75.48,101.87h0 M84.98,111.77h0 M77.05,126.34h0 M86.34,124.91h0 M91.22,126.95h0 M92.28,125.38h0 M83.94,114.41h0 M77.99,121.01h0 M96.2,104.25h0 M98.39,109.49h0 M73.62,112.45h0 M73.5,107.6h0 M77.43,121.76h0 M85.74,100.1h0 M90.25,96.93h0 M82.68,126.46h0 M87.64,118.42h0 M88.34,106.18h0 M100.25,111.92h0 M86.51,105.32h0 M88.66,98.96h0 M75.17,114.4h0 M91.63,118.15h0 M69.65,110.72h0 M88.33,109.28h0 M75.73,114.5h0 M86.83,100.47h0 M75.85,117.33h0 M95.83,107.21h0 M95.2,112.52h0 M82.33,110.33h0 M86.73,116.5h0 M91.82,121.9h0 M95.85,107.39h0 M79.98,100.3h0 M78.79,104.37h0 M99.12,104.62h0 M89.66,102.91h0 M74.89,116.48h0 M81.64,96.28h0 M81.42,101.49h0 M81.89,96.29h0 M98.89,122.46h0 M93.71,100.02h0 M70,111.44h0 M83.18,105.36h0 M72.71,120.53h0 M76.19,124.91h0 M75.14,106.46h0 M83.14,117.59h0 M77.97,99.28h0 M85.6,120.79h0 M75.88,101.77h0 M93.95,117.62h0 M97.78,117.25h0 M92.49,108.37h0 M83.06,118.47h0 M81.76,125.57h0 M80.81,110.94h0 M74.37,124.12h0 M88.06,111.26h0 M85.96,114.47h0 M75.45,101.25h0 M75.7,97.94h0 M95.67,120.7h0 M85.65,113.2h0 M92.06,114.68h0 M92,100.78h0 M96.63,100.96h0 M79.38,102.7h0 M96.24,115.91h0 M97.37,117.09h0 M92.13,113.25h0 M72.67,120.36h0 M98.12,108.31h0 M87.09,102.48h0 M90.53,113.43h0 M78.26,119.4h0 M69.93,98.47h0 M95.46,113.37h0 M89.7,113.44h0 M77.21,124.13h0 M65.96,102.46h0 M77.73,116.61h0 M82.98,111.52h0 M92.24,119.66h0 M77.38,111.02h0 M70.54,116.46h0 M77.26,114.79h0 M91.34,98.21h0 M73.29,107.91h0 M97.09,113.04h0 M95.61,111.37h0 M76.7,111.46h0 M100.79,112.57h0 M87.06,115.74h0 M73.04,116.9h0 M90.61,97.08h0 M95.17,125.02h0 M78.91,98.48h0 M89.27,110.61h0 M93.23,121.1h0 M79.77,119.61h0 M96.72,107.49h0 M85.09,122.33h0 M94.99,113.24h0 M79.92,112.43h0 M74.84,100.43h0 M72.29,104.75h0 M73.98,104.68h0 M86.77,125.52h0 M78.96,122.67h0 M71.99,101.98h0 M79.04,109.2h0 M74.79,116.56h0 M68.02,107.65h0 M81.01,111.69h0 M86.33,115.24h0 M90.59,122.95h0 M82.31,100.49h0 M85.49,111.55h0 M69.54,102.66h0 M86.56,97.96h0 M73.67,102.15h0 M71.48,114.55h0 M83.21,114.21h0 M80.3,122.38h0 M87.14,106.53h0 M86.5,113.94h0 M95.26,113.45h0 M86.09,125.87h0 M92.86,117.56h0 M83.05,97.81h0 M92,111.6h0 M85.88,98.19h0 M67.14,104.48h0 M98.24,118.45h0 M87.19,117.38h0 M83.57,125.74h0 M75.9,119.78h0 M80.99,112.6h0 M83.25,95.94h0 M97.13,122.55h0 M79.37,104.31h0 M69.53,103.06h0 M88.84,97.12h0 M75.55,96.46h0 M75.44,103.91h0 M100.83,109.03h0 M88.84,100.17h0 M92.85,119.42h0 M71.16,100.21h0 M86.03,99.96h0 M90.99,102.52h0 M70.53,96.85h0 M97.73,111.5h0 M84.7,124.42h0 M91.03,120.23h0 M74,98.71h0 M81.47,125.13h0 M82.59,103.18h0 M97.81,120.03h0 M83.42,106.14h0 M94.76,107.24h0 M81.77,100.14h0 M83.61,103.35h0 M88.5,97.66h0 M90.51,124h0 M88.86,103.6h0 M96.26,106.86h0 M86.26,122.44h0 M91.8,116.9h0 M84.8,119.81h0 M79.52,98.98h0 M96.58,108.8h0 M77.71,123.99h0 M97.73,101.55h0 M68.47,101.58h0 M87.32,126.5h0 M76.62,100.56h0 M87.74,112.06h0 M74.02,108.47h0 M96.05,109.59h0 M85.5,117.8h0 M79.43,116.58h0 M76.59,108.4h0 M97.72,124.6h0 M90.39,111.97h0 M82.49,101.63h0 M71.62,98.01h0 M72.1,102.1h0 M86.59,112.7h0 M75.03,98.17h0 M75.2,121.79h0 M87.56,105.01h0 M85.41,105.02h0 M79.47,103.18h0 M89.51,110.06h0 M84.28,100.43h0 M86.17,103.25h0 M86.15,117.85h0 M90.46,100.33h0 M92.54,108.05h0 M82.55,102.32h0 M98.03,114.64h0 M81.65,126.83h0 M80.95,123.75h0 M78.3,111.08h0 M88.19,102.63h0 M69.57,110.36h0 M69.02,111.84h0 M72.58,101.18h0 M90.19,127.84h0 M88.65,122.13h0 M99.8,114.87h0 M83.54,116.2h0 M81.09,118.97h0 M72.2,99.45h0 M96.6,108.65h0 M84.87,118.85h0 M84.68,116.96h0 M75.49,111.7h0 M84.31,114.8h0 M93.07,124.22h0 M71.09,119.61h0 M96.87,125.75h0 M78.24,97.77h0 M91.44,122.19h0 M76.92,109.08h0 M96.46,101.05h0 M78.36,97.28h0 M95.65,100.76h0 M69.32,99.45h0 M79.56,101.11h0 M97.45,121.28h0 M72.11,98.73h0 M80.99,106.45h0 M92.11,118.15h0 M78.41,115.62h0 M82.16,106.41h0 M66.8,104.12h0 M85.3,120.92h0 M100.03,108.61h0 M90.85,103.55h0 M82.08,106.94h0 M77.13,106.23h0 M70.34,108.89h0 M93.07,98.17h0 M94.28,116.12h0 M91.02,117.73h0 M84.09,116.48h0 M93.04,116.28h0 M90.54,96.56h0 M81.65,117.76h0 M89.79,101h0 M79.35,97.22h0 M94.92,106.03h0 M97.37,118.83h0 M70.9,108.16h0 M86.64,115.08h0 M87.84,98.53h0 M89.25,107.13h0 M72.79,120.62h0 M91.76,99.38h0 M87.63,107.98h0 M98.28,104.65h0 M88.95,115.49h0 M95.83,114.38h0 M91.91,108.77h0 M68.97,107.64h0 M78.23,115.74h0 M77.75,102.33h0 M89.54,98.36h0 M85.54,102.29h0 M75.94,118.75h0 M75.7,113.11h0 M70.3,118.84h0 M94.34,120.02h0 M88.75,118.82h0 M79.75,107.52h0 M91.64,115.21h0 M91.42,114.27h0 M92.97,117.38h0 M90.36,99.42h0 M84.98,109.57h0 M73.66,121.6h0 M85.23,113.5h0 M93.69,101.77h0 M75.4,123.96h0 M81.84,118.15h0 M82.62,96.48h0 M75.93,114.2h0 M76.11,109.22h0 M87.95,96.46h0 M85.44,98.33h0 M80.52,104.96h0 M71.71,118.06h0 M67.26,97.91h0 M97.6,112.24h0 M71.72,118.89h0 M70.84,107.13h0 M91.3,104.22h0 M88.04,96.82h0 M77.68,123.56h0 M88.85,108.34h0 M74.64,109.58h0 M89.15,101.81h0 M93.81,116.13h0 M91.16,106.64h0 M78.84,125.48h0 M98.37,107.99h0 M82.57,105.84h0 M79.51,108.68h0 M82.59,120.14h0 M93.42,110.69h0 M69.07,110.54h0 M69.82,101.64h0 M87.99,113.07h0 M80.6,105.05h0 M71.36,104.59h0 M80.92,125.6h0 M68.5,108.65h0 M97.69,111.1h0 M81.38,112.92h0 M90.77,126.1h0 M69.71,99.34h0 M98.57,109.83h0 M74.36,120.11h0 M69.58,100.46h0 M73.8,116.13h0 M84.35,116.2h0 M77.46,102.18h0 M76.68,120.18h0 M96.17,113.59h0 M82.04,126.04h0 M100.29,114.13h0 M86.7,102.19h0 M65,106.23h0 M70.72,124.45h0 M71.93,114.69h0 M89.28,95.63h0 M100.24,108.49h0 M69.64,122.24h0 M99.74,108.47h0 M75.69,124.73h0 M66.57,109.5h0 M67.26,108.8h0 M101.83,107.79h0 M66.08,103.45h0 M71.17,120.52h0 M81.94,127.11h0 M84.54,130.42h0 M67.37,117.63h0 M99.2,117.99h0 M101.59,103.88h0 M93.8,100.86h0 M97.01,104.12h0 M91.57,98.19h0 M77.76,94.02h0 M69.42,112h0 M78.36,126.08h0 M73.33,127.44h0 M67.75,98.18h0 M67.59,102.98h0 M65.27,102.41h0 M66.68,98.54h0 M80.22,125.67h0 M84.89,95.1h0 M102.54,112.12h0 M100.87,121.41h0 M67.6,96.56h0 M85.36,126.7h0 M65.49,106.36h0 M97.85,124.66h0 M86.14,92.65h0 M99.97,112.18h0 M101.27,104.2h0 M96.29,103.66h0 M85.11,97.42h0 M79.98,95.85h0 M98.46,127.46h0 M66.97,110.5h0 M72.85,96.82h0 M72.23,122.71h0 M97.45,103.45h0 M88.27,128.2h0 M66.25,99.23h0 M66.42,98.57h0 M71.52,121.3h0 M84.76,97.25h0 M100.27,105.85h0 M99.79,113.35h0 M69.22,116.82h0 M101.02,108.85h0 M74.73,122.43h0 M101.15,102.79h0 M97.88,110.77h0 M85.67,97.53h0 M87.2,129.28h0 M69.15,118.22h0 M80.76,96.32h0 M79.24,125.55h0 M97.54,106.74h0 M88.86,128.38h0 M97.5,127.03h0 M64.06,105.97h0 M72.9,96.85h0 M98.93,120.21h0 M81.07,94.61h0 M73.43,99.37h0 M80.78,124.76h0 M86.69,128.84h0 M80.2,95.07h0 M93.82,130.66h0 M70.74,109.98h0 M70.62,122.14h0 M90.21,101.19h0 M99.45,100.92h0 M69,121.49h0 M89.34,128.53h0 M73.9,124.84h0 M66.99,111.28h0 M69.08,96.26h0 M102.99,107.77h0 M72.79,95.02h0 M96.3,124.4h0 M77.27,96h0 M84.7,96.12h0 M66.64,100.91h0 M78.22,93.93h0 M69.71,94.24h0 M82.87,99.25h0 M86.74,97.89h0 M87.95,98.88h0 M84.99,92.21h0 M76.52,96.66h0 M92.28,102.41h0 M86.13,101.02h0 M82.25,94.15h0 M88.71,94.81h0 M82.8,91.17h0 M88.9,98.86h0 M82.45,94.6h0 M89.76,94.04h0 M76.36,99.56h0 M93.28,97.72h0 M86.82,93.85h0 M87.05,97.94h0 M97.12,100.54h0 M81.45,93.38h0 M65.93,95.76h0 M90.09,101.76h0 M82.54,92.45h0 M82.01,95.46h0 M70.05,93.77h0 M69.14,96.02h0 M94.92,103.37h0 M73.35,96.26h0 M65.96,98.74h0 M71.44,91.46h0 M96.82,98.67h0 M96.64,101.7h0 M62.98,99.09h0 M94.51,97.77h0 M80.27,96.89h0 M86.93,97.48h0 M90.09,96.82h0 M68.55,95.22h0 M94.42,97.93h0 M97.56,102h0 M84.78,97.59h0 M67.72,101.24h0 M81.88,97.21h0 M85.81,94.23h0 M94.34,99.8h0 M88.2,95.05h0 M65.49,99.83h0 M90.97,96.52h0 M64.73,89.4h0 M87.62,95.97h0 M75.61,94.57h0 M63.83,97.56h0 M74.52,94.13h0 M62.48,96.12h0 M70.2,95.85h0 M89.86,99.39h0 M78.16,96.36h0 M105.72,121.5h0 M100.7,134.03h0 M109.27,132.26h0 M104.25,133.92h0 M102.29,131.67h0 M106.86,135.83h0 M106.91,130.1h0 M99.2,135.65h0 M118.48,130.49h0 M110.51,129.75h0 M95.05,129.81h0 M117.02,130.33h0 M109.1,125.96h0 M101.49,123.54h0 M107.61,135.77h0 M106.65,136.55h0 M114.78,127.81h0 M112.93,126.06h0 M110.5,122.8h0 M93.22,130.81h0 M94.5,127.22h0 M111.41,134.86h0 M99.62,136.24h0 M108.4,131.83h0 M91.7,130.61h0 M104.88,130.52h0 M114.75,130.73h0 M102.43,131.31h0 M114.52,129.5h0 M94.35,131.55h0 M116.16,132.46h0 M107.84,121.62h0 M103.6,133.21h0 M103.59,120.53h0 M90.54,132.14h0 M106.76,132.1h0 M104.4,123.24h0 M90.41,131.45h0 M96.53,132.61h0 M107.47,128.56h0 M94.79,129.84h0 M104.82,122.43h0 M96.12,130.88h0 M94.43,134.17h0 M113.15,125.75h0 M111.24,133.03h0 M104.58,123.78h0 M104.07,127.22h0 M98.64,131.22h0 M92.12,133.3h0 M115.38,133.72h0 M103.43,136.3h0 M106.29,124.85h0 M98.92,126.86h0 M102.99,128.26h0 M86.61,129.1h0 M110.23,135.32h0 M110.46,132.68h0 M105,130.46h0 M92.08,128.11h0 M95.8,132.27h0 M100.8,128.56h0 M100.36,127.68h0 M111.83,135.51h0 M109.72,129.54h0 M102.89,121.9h0 M99.68,132.45h0 M102.06,136.21h0 M102.07,130.26h0 M98.13,130.67h0 M105.8,64h0 M109.4,66h0 M95.9,69h0 M90.9,74.1h0 M87.7,75.2h0 M85.8,77.3h0 M88.7,77.6h0 M97.8,76.5h0 M101,75.7h0 M98.3,80.2h0 M75.3,80.8h0 M72.9,83.7h0 M86.6,83.7h0 M89,82.6h0 M91,82.6h0 M95.4,84h0 M84.2,85.6h0 M79.7,87.4h0 M105.8,86.1h0 M112.6,82.6h0 M90.1,90.1h0 M93,92.6h0 M54.8,94.2h0 M120.8,89.7h0 M131.5,80.8h0 M139.1,79.4h0 M140,87.3h0 M144,88h0 M147.2,90h0 M150.4,89.3h0 M152.5,93.3h0 M155.3,86.9h0 M156.5,86.4h0 M157.8,85.8h0 M159,85.3h0 M160.3,84.7h0 M161.7,84.1h0 M148.8,135.6h0 M58,108h0 M60,118h0" fill="none" stroke="#f7e425" stroke-width="2.3" stroke-linecap="round"/>
<path d="M32.08,204.15 L203.16,259.95 L294.05,166.83 L299.8,40.99" fill="none" stroke="#000" stroke-width="0.85" stroke-linejoin="round"/>
<path d="M54.61,209.88 L51.26,212.75 M73.47,216.03 L70.16,218.93 M92.57,222.24 L89.29,225.18 M111.89,228.54 L108.65,231.51 M131.45,234.9 L128.24,237.91 M151.24,241.35 L148.07,244.4 M171.28,247.87 L168.14,250.96 M191.56,254.48 L188.46,257.6 M208.08,252.6 L212.27,253.95 M219.07,241.34 L223.27,242.68 M229.84,230.32 L234.04,231.64 M240.38,219.52 L244.59,220.82 M250.72,208.93 L254.92,210.22 M260.84,198.57 L265.05,199.84 M270.76,188.4 L274.98,189.66 M280.49,178.44 L284.71,179.68 M290.03,168.67 L294.26,169.9 M292.99,151.64 L297.22,152.85 M294.19,125.3 L298.43,126.48 M295.42,98.47 L299.66,99.62 M296.66,71.13 L300.92,72.24 M297.93,43.26 L302.2,44.34" fill="none" stroke="#000" stroke-width="0.7"/>
<g font-family="'Liberation Serif', serif">
<text x="47.74" y="229.35" font-size="8.1" text-anchor="middle" fill="#333">-4</text>
<text x="66.62" y="235.51" font-size="8.1" text-anchor="middle" fill="#333">-2</text>
<text x="85.73" y="241.74" font-size="8.1" text-anchor="middle" fill="#333">0</text>
<text x="105.06" y="248.05" font-size="8.1" text-anchor="middle" fill="#333">2</text>
<text x="124.63" y="254.43" font-size="8.1" text-anchor="middle" fill="#333">4</text>
<text x="144.44" y="260.9" font-size="8.1" text-anchor="middle" fill="#333">6</text>
<text x="164.49" y="267.44" font-size="8.1" text-anchor="middle" fill="#333">8</text>
<text x="184.79" y="274.06" font-size="8.1" text-anchor="middle" fill="#333">10</text>
<text x="218.56" y="269.76" font-size="8.1" text-anchor="middle" fill="#333">-5.0</text>
<text x="229.79" y="258.25" font-size="8.1" text-anchor="middle" fill="#333">-2.5</text>
<text x="240.79" y="246.99" font-size="8.1" text-anchor="middle" fill="#333">0.0</text>
<text x="251.56" y="235.96" font-size="8.1" text-anchor="middle" fill="#333">2.5</text>
<text x="262.1" y="225.15" font-size="8.1" text-anchor="middle" fill="#333">5.0</text>
<text x="272.44" y="214.56" font-size="8.1" text-anchor="middle" fill="#333">7.5</text>
<text x="282.56" y="204.19" font-size="8.1" text-anchor="middle" fill="#333">10.0</text>
<text x="292.49" y="194.02" font-size="8.1" text-anchor="middle" fill="#333">12.5</text>
<text x="302.22" y="184.05" font-size="8.1" text-anchor="middle" fill="#333">15.0</text>
<text x="309.52" y="156.53" font-size="8.1" text-anchor="middle" fill="#333">-5</text>
<text x="310.73" y="130.18" font-size="8.1" text-anchor="middle" fill="#333">0</text>
<text x="311.95" y="103.34" font-size="8.1" text-anchor="middle" fill="#333">5</text>
<text x="313.2" y="75.98" font-size="8.1" text-anchor="middle" fill="#333">10</text>
<text x="314.48" y="48.1" font-size="8.1" text-anchor="middle" fill="#333">15</text>
<text x="102.3" y="261.3" font-size="8.1" text-anchor="middle" transform="rotate(18.3 102.3 261.3)" textLength="79" lengthAdjust="spacingAndGlyphs" fill="#333">Principal component 1</text>
<text x="273.2" y="234.5" font-size="8.1" text-anchor="middle" transform="rotate(-45.3 273.2 234.5)" textLength="78" lengthAdjust="spacingAndGlyphs" fill="#333">Principal component 2</text>
<text x="331.3" y="100.8" font-size="8.1" text-anchor="middle" transform="rotate(-87.5 331.3 100.8)" textLength="78" lengthAdjust="spacingAndGlyphs" fill="#333">Principal component 3</text>
<rect x="411.02" y="180.6" width="114.87" height="74.6" fill="#70b4d8"/>
<rect x="554.61" y="93.95" width="114.87" height="161.25" fill="#40004c"/>
<rect x="554.61" y="54" width="114.87" height="39.95" fill="#f4e52d"/>
<rect x="398.1" y="43.5" width="284.3" height="211.7" fill="none" stroke="#000" stroke-width="0.7"/>
<path d="M398.1,255.2 h-3.3 M398.1,221.9 h-3.3 M398.1,188.6 h-3.3 M398.1,155.3 h-3.3 M398.1,122 h-3.3 M398.1,88.7 h-3.3 M398.1,55.4 h-3.3 M468.46,255.2 v3.3 M612.04,255.2 v3.3" fill="none" stroke="#000" stroke-width="0.7"/>
<text x="392" y="257.9" font-size="8.1" text-anchor="end" fill="#333">0</text>
<text x="392" y="224.6" font-size="8.1" text-anchor="end" textLength="22" lengthAdjust="spacingAndGlyphs" fill="#333">50 000</text>
<text x="392" y="191.3" font-size="8.1" text-anchor="end" textLength="26.1" lengthAdjust="spacingAndGlyphs" fill="#333">100 000</text>
<text x="392" y="158" font-size="8.1" text-anchor="end" textLength="26.1" lengthAdjust="spacingAndGlyphs" fill="#333">150 000</text>
<text x="392" y="124.7" font-size="8.1" text-anchor="end" textLength="26.1" lengthAdjust="spacingAndGlyphs" fill="#333">200 000</text>
<text x="392" y="91.4" font-size="8.1" text-anchor="end" textLength="26.1" lengthAdjust="spacingAndGlyphs" fill="#333">250 000</text>
<text x="392" y="58.1" font-size="8.1" text-anchor="end" textLength="26.1" lengthAdjust="spacingAndGlyphs" fill="#333">300 000</text>
<text x="468.46" y="266.7" font-size="8.1" text-anchor="middle" textLength="22.5" lengthAdjust="spacingAndGlyphs" fill="#333">Severe</text>
<text x="612.04" y="266.7" font-size="8.1" text-anchor="middle" textLength="37.9" lengthAdjust="spacingAndGlyphs" fill="#333">Non-severe</text>
<text x="540.2" y="277.8" font-size="8.1" text-anchor="middle" textLength="30.9" lengthAdjust="spacingAndGlyphs" fill="#333">Category</text>
<text x="361.7" y="150.5" font-size="8.1" text-anchor="middle" transform="rotate(-90 361.7 150.5)" textLength="21" lengthAdjust="spacingAndGlyphs" fill="#333">Count</text>
<rect x="405.9" y="50.5" width="16.1" height="5.8" fill="#f4e52d"/>
<rect x="405.9" y="61.8" width="16.1" height="5.8" fill="#40004c"/>
<text x="427.1" y="56.5" font-size="8.1" text-anchor="start" textLength="31.5" lengthAdjust="spacingAndGlyphs" fill="#333">Cluster 1</text>
<text x="427.1" y="67.5" font-size="8.1" text-anchor="start" textLength="31.5" lengthAdjust="spacingAndGlyphs" fill="#333">Cluster 2</text>
</g>
<g font-family="'Liberation Serif', serif" fill="#1a1a1a" stroke="#1a1a1a" stroke-width="0.25" font-size="18">
<text y="307.7"><tspan x="0" textLength="20.7" lengthAdjust="spacingAndGlyphs">(a)</tspan> <tspan x="27.6" textLength="86.8" lengthAdjust="spacingAndGlyphs" font-style="italic">Non-severe</tspan> <tspan x="121.2" textLength="59.2" lengthAdjust="spacingAndGlyphs">clusters</tspan> <tspan x="187.2" textLength="36" lengthAdjust="spacingAndGlyphs">from</tspan> <tspan x="229.7" textLength="99.2" lengthAdjust="spacingAndGlyphs">Combination</tspan> <tspan x="336.7" textLength="10" lengthAdjust="spacingAndGlyphs">3</tspan></text>
<text y="307.7"><tspan x="371.2" textLength="23.2" lengthAdjust="spacingAndGlyphs">(b)</tspan> <tspan x="401.4" textLength="73.3" lengthAdjust="spacingAndGlyphs">Stratified</tspan> <tspan x="481" textLength="115.3" lengthAdjust="spacingAndGlyphs">undersampling</tspan> <tspan x="603.9" textLength="67.3" lengthAdjust="spacingAndGlyphs">proposal</tspan></text>
</g>
</svg>
</body></html>
